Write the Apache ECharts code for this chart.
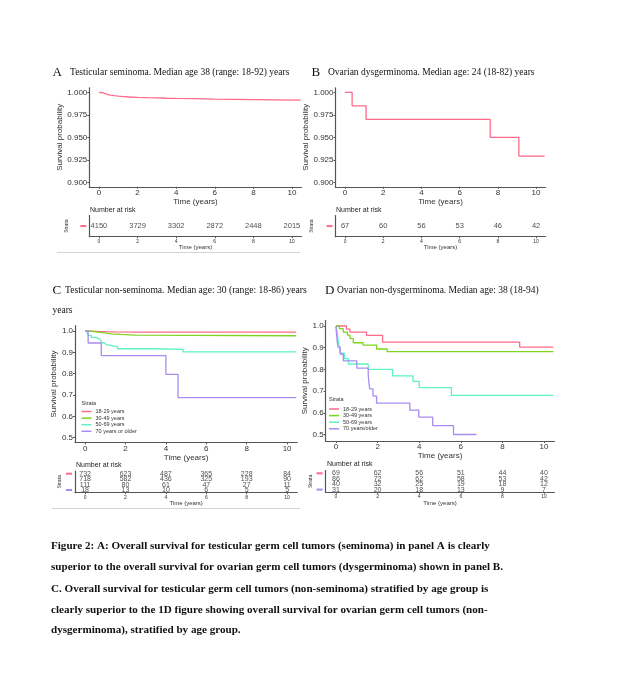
<!DOCTYPE html>
<html><head><meta charset="utf-8">
<script src="https://cdn.jsdelivr.net/npm/echarts@6/dist/echarts.min.js"></script>
<style>html,body{margin:0;padding:0;background:#fff}#c{width:627px;height:700px}</style>
</head><body><div id="c"></div>
<script>
// ---------- data ----------
const xTicks = [0, 2, 4, 6, 8, 10];
const yTicksAB = [0.900, 0.925, 0.950, 0.975, 1.000];
const yTicksCD = [0.5, 0.6, 0.7, 0.8, 0.9, 1.0];
const riskTimes = [0, 2, 4, 6, 8, 10];

const strataC = ['18-29 years', '30-49 years', '50-69 years', '70 years or older'];
const strataD = ['18-29 years', '30-49 years', '50-69 years', '70 years/older'];

// Panel A: testicular seminoma
const kmA = [[0,1.000],[0.1,0.9995],[0.2,0.9985],[0.3,0.9975],[0.45,0.9968],[0.6,0.9962],[0.8,0.9957],[1.0,0.9953],[1.3,0.9948],[1.6,0.9944],[2.0,0.9940],[2.5,0.9937],[3.0,0.9934],[3.5,0.9932],[4.0,0.9929],[5.0,0.9925],[6.0,0.9922],[7.0,0.9919],[8.0,0.9916],[9.0,0.9913],[10.45,0.9912]];
const riskA = [4150, 3729, 3302, 2872, 2448, 2015];

// Panel B: ovarian dysgerminoma
const kmB = [[0,1.000],[0.37,0.985],[1.1,0.970],[7.6,0.950],[9.1,0.929],[10.45,0.929]];
const riskB = [67, 60, 56, 53, 46, 42];

// Panel C: testicular non-seminoma by age
const kmC1829 = [[0,1],[0.3,0.9985],[0.6,0.997],[1.0,0.996],[1.5,0.995],[2.5,0.9945],[10.45,0.9945]];
const kmC3049 = [[0,1],[0.3,0.995],[0.6,0.991],[1.0,0.987],[1.3,0.984],[1.8,0.981],[2.5,0.978],[10.45,0.978]];
const kmC5069 = [[0,1],[0.1,0.99],[0.15,0.98],[0.3,0.97],[0.5,0.964],[0.7,0.955],[0.8,0.945],[0.95,0.936],[1.05,0.927],[1.6,0.917],[3.5,0.914],[4.85,0.902],[10.45,0.902]];
const kmC70 = [[0,1],[0.15,0.944],[0.8,0.885],[4.0,0.797],[4.6,0.688],[10.45,0.688]];
const riskC1829 = [732, 623, 487, 365, 228, 84];
const riskC3049 = [718, 582, 436, 325, 193, 90];
const riskC5069 = [111, 80, 61, 47, 27, 11];
const riskC70 = [18, 13, 10, 6, 5, 5];

// Panel D: ovarian non-dysgerminoma by age
const kmD1829 = [[0,1],[0.5,0.986],[0.67,0.972],[1.47,0.957],[2.24,0.926],[8.83,0.903],[10.45,0.903]];
const kmD3049 = [[0,1],[0.16,0.988],[0.35,0.972],[0.55,0.958],[0.67,0.943],[0.83,0.923],[1.3,0.912],[1.95,0.894],[2.46,0.882],[10.45,0.882]];
const kmD5069 = [[0,1],[0.05,0.975],[0.08,0.95],[0.12,0.925],[0.16,0.9],[0.2,0.875],[0.4,0.85],[0.6,0.825],[1.55,0.80],[2.72,0.77],[3.7,0.745],[4.0,0.716],[5.55,0.68],[10.45,0.68]];
const kmD70 = [[0,1],[0.02,0.968],[0.05,0.935],[0.1,0.903],[0.2,0.871],[0.35,0.839],[1.0,0.806],[1.55,0.774],[1.58,0.742],[1.62,0.71],[1.78,0.677],[1.95,0.645],[3.55,0.612],[3.98,0.58],[4.65,0.541],[5.65,0.50],[6.75,0.50]];
const riskD1829 = [69, 62, 56, 51, 44, 40];
const riskD3049 = [86, 72, 62, 58, 53, 42];
const riskD5069 = [40, 32, 25, 19, 18, 12];
const riskD70 = [31, 20, 18, 13, 9, 7];

const captionLines = [
  'Figure 2: A: Overall survival for testicular germ cell tumors (seminoma) in panel A is clearly',
  'superior to the overall survival for ovarian germ cell tumors (dysgerminoma) shown in panel B.',
  'C. Overall survival for testicular germ cell tumors (non-seminoma) stratified by age group is',
  'clearly superior to the 1D figure showing overall survival for ovarian germ cell tumors (non-',
  'dysgerminoma), stratified by age group.'
];

// ---------- styling ----------
const COLS = ['#FF6A8B', '#7FD321', '#5FF2C2', '#A98BF2'];
const AX = '#4f5858';
const TXT = '#333';
const SANS = "'Liberation Sans', Arial, sans-serif";
const NARROW = "'Liberation Sans Narrow', 'Liberation Sans', Arial, sans-serif";
const SERIF = "'Liberation Serif', 'Times New Roman', serif";

// grids: 0 A plot, 1 B plot, 2 C plot, 3 D plot, 4 A risk, 5 B risk, 6 C risk, 7 D risk
const grids = [
  {left: 89.3, top: 87.8, width: 212.3, height: 99},
  {left: 335.5, top: 87.8, width: 210.1, height: 99},
  {left: 75, top: 325.7, width: 222.2, height: 116.7},
  {left: 325.6, top: 320.6, width: 228.8, height: 120.4},
  {left: 89.3, top: 215.5, width: 212.3, height: 21.2},
  {left: 335.5, top: 215.5, width: 210.1, height: 21.2},
  {left: 75, top: 471, width: 222.2, height: 21.7},
  {left: 325.6, top: 470.6, width: 228.8, height: 21.7}
];

function plotX(g) {
  return {type: 'value', gridIndex: g, min: -0.5, max: 10.5,
    axisLine: {show: true, onZero: false, lineStyle: {color: AX, width: 1.2}},
    axisTick: {show: true, length: 2, customValues: xTicks, lineStyle: {color: AX}},
    axisLabel: {customValues: xTicks, fontSize: 8, color: TXT, margin: 2, fontFamily: SANS},
    splitLine: {show: false},
    name: 'Time (years)', nameLocation: 'middle', nameGap: 5.5,
    nameTextStyle: {fontSize: 8, color: TXT, fontFamily: SANS}};
}
function plotY(g, min, max, ticks, dec, gap) {
  return {type: 'value', gridIndex: g, min: min, max: max,
    axisLine: {show: true, onZero: false, lineStyle: {color: AX, width: 1.2}},
    axisTick: {show: true, length: 2, customValues: ticks, lineStyle: {color: AX}},
    axisLabel: {customValues: ticks, fontSize: 8, color: TXT, margin: 2, fontFamily: SANS,
      formatter: v => Number(v).toFixed(dec)},
    splitLine: {show: false},
    name: 'Survival probability', nameLocation: 'middle', nameGap: gap, nameRotate: 90,
    nameTextStyle: {fontSize: 8, color: TXT, fontFamily: SANS}};
}
function riskX(g) {
  return {type: 'value', gridIndex: g, min: -0.5, max: 10.5,
    axisLine: {show: true, onZero: false, lineStyle: {color: AX, width: 1.2}},
    axisTick: {show: true, length: 1.5, customValues: xTicks, lineStyle: {color: AX}},
    axisLabel: {customValues: xTicks, fontSize: 5, color: TXT, margin: 2, fontFamily: SANS},
    splitLine: {show: false},
    name: 'Time (years)', nameLocation: 'middle', nameGap: 8,
    nameTextStyle: {fontSize: 6, color: TXT, fontFamily: SANS}};
}
const rich = {};
COLS.forEach((c, i) => { rich['c' + i] = {backgroundColor: c, width: 6, height: 2, lineHeight: 2}; });
function riskY(g, cats, gap) {
  return {type: 'category', gridIndex: g, data: cats, inverse: true,
    axisLine: {show: true, onZero: false, lineStyle: {color: AX, width: 1.2}},
    axisTick: {show: false},
    axisLabel: {margin: 3, formatter: (v, i) => '{c' + i + '| }', rich: rich},
    splitLine: {show: false},
    name: 'Strata', nameLocation: 'middle', nameGap: gap, nameRotate: 90,
    nameTextStyle: {fontSize: 5, color: TXT, fontFamily: SANS}};
}

const xAxis = [plotX(0), plotX(1), plotX(2), plotX(3), riskX(4), riskX(5), riskX(6), riskX(7)];
const yAxis = [
  plotY(0, 0.895, 1.005, yTicksAB, 3, 15),
  plotY(1, 0.895, 1.005, yTicksAB, 3, 19),
  plotY(2, 0.478, 1.025, yTicksCD, 1, 8),
  plotY(3, 0.47, 1.025, yTicksCD, 1, 10),
  riskY(4, ['All'], 20),
  riskY(5, ['All'], 21),
  riskY(6, strataC, 13),
  riskY(7, strataD, 12)
];

function km(name, data, g, col) {
  return {type: 'line', name: name, xAxisIndex: g, yAxisIndex: g, data: data, step: 'end',
    showSymbol: false, symbol: 'none', lineStyle: {color: col, width: 1.3}, itemStyle: {color: col},
    silent: true, animation: false};
}
function risk(g, cat, vals, fs) {
  return {type: 'scatter', xAxisIndex: g, yAxisIndex: g, symbolSize: 0.01, silent: true, animation: false,
    data: riskTimes.map((t, i) => [t, cat, vals[i]]),
    label: {show: true, position: 'inside', formatter: p => String(p.value[2]),
      fontSize: fs, color: '#222', fontFamily: fs < 7.5 ? NARROW : SANS}};
}

const series = [
  km('All', kmA, 0, COLS[0]),
  km('All', kmB, 1, COLS[0]),
  km(strataC[0], kmC1829, 2, COLS[0]),
  km(strataC[1], kmC3049, 2, COLS[1]),
  km(strataC[2], kmC5069, 2, COLS[2]),
  km(strataC[3], kmC70, 2, COLS[3]),
  km(strataD[0], kmD1829, 3, COLS[0]),
  km(strataD[1], kmD3049, 3, COLS[1]),
  km(strataD[2], kmD5069, 3, COLS[2]),
  km(strataD[3], kmD70, 3, COLS[3]),
  risk(4, 'All', riskA, 7.5),
  risk(5, 'All', riskB, 7.5),
  risk(6, strataC[0], riskC1829, 7),
  risk(6, strataC[1], riskC3049, 7),
  risk(6, strataC[2], riskC5069, 7),
  risk(6, strataC[3], riskC70, 7),
  risk(7, strataD[0], riskD1829, 7),
  risk(7, strataD[1], riskD3049, 7),
  risk(7, strataD[2], riskD5069, 7),
  risk(7, strataD[3], riskD70, 7)
];

function legendAt(left, top, names) {
  return {left: left, top: top, orient: 'vertical', icon: 'rect', itemWidth: 10, itemHeight: 1.5,
    itemGap: 0.6, padding: 0, selectedMode: false, data: names,
    textStyle: {fontSize: 5.5, color: TXT, fontFamily: SANS, padding: [0, 0, 0, -1]}};
}

function txt(x, y, s, font, opts) {
  return Object.assign({type: 'text', silent: true,
    style: Object.assign({x: x, y: y, text: s, font: font, fill: '#111', verticalAlign: 'middle', align: 'left'}, opts || {})});
}
const graphic = [
  txt(52.5, 72.5, 'A', '13px ' + SERIF),
  txt(70, 72, 'Testicular seminoma. Median age 38 (range: 18-92) years', '9.5px ' + SERIF),
  txt(311.5, 72.5, 'B', '13px ' + SERIF),
  txt(328, 72, 'Ovarian dysgerminoma. Median age: 24 (18-82) years', '9.5px ' + SERIF),
  txt(52.5, 290.5, 'C', '13px ' + SERIF),
  txt(65, 290.5, 'Testicular non-seminoma. Median age: 30 (range: 18-86) years', '9.6px ' + SERIF),
  txt(52.5, 310, 'years', '9.5px ' + SERIF),
  txt(325, 290.5, 'D', '13px ' + SERIF),
  txt(337, 290.5, 'Ovarian non-dysgerminoma. Median age: 38 (18-94)', '9.5px ' + SERIF),
  txt(90, 210, 'Number at risk', '7px ' + SANS, {fill: '#222'}),
  txt(336, 210, 'Number at risk', '7px ' + SANS, {fill: '#222'}),
  txt(76, 465, 'Number at risk', '7px ' + SANS, {fill: '#222'}),
  txt(327, 464, 'Number at risk', '7px ' + SANS, {fill: '#222'}),
  txt(81.5, 403.3, 'Strata', '5.5px ' + SANS, {fill: TXT}),
  txt(329, 399.3, 'Strata', '5.5px ' + SANS, {fill: TXT}),
  {type: 'line', silent: true, shape: {x1: 57, y1: 252.5, x2: 300, y2: 252.5}, style: {stroke: '#d4d4d4', lineWidth: 1}},
  {type: 'line', silent: true, shape: {x1: 52, y1: 508.5, x2: 300, y2: 508.5}, style: {stroke: '#d4d4d4', lineWidth: 1}}
];
const capY = [546, 567, 589.5, 610, 630.5];
captionLines.forEach((s, i) => graphic.push(txt(51, capY[i], s, 'bold 11.1px ' + SERIF, {fill: '#111'})));

const chart = echarts.init(document.getElementById('c'), null, {renderer: 'canvas'});
chart.setOption({
  backgroundColor: '#fff',
  animation: false,
  grid: grids,
  xAxis: xAxis,
  yAxis: yAxis,
  legend: [legendAt(81.5, 408.5, strataC), legendAt(329, 406, strataD)],
  series: series,
  graphic: graphic
});
</script></body></html>
